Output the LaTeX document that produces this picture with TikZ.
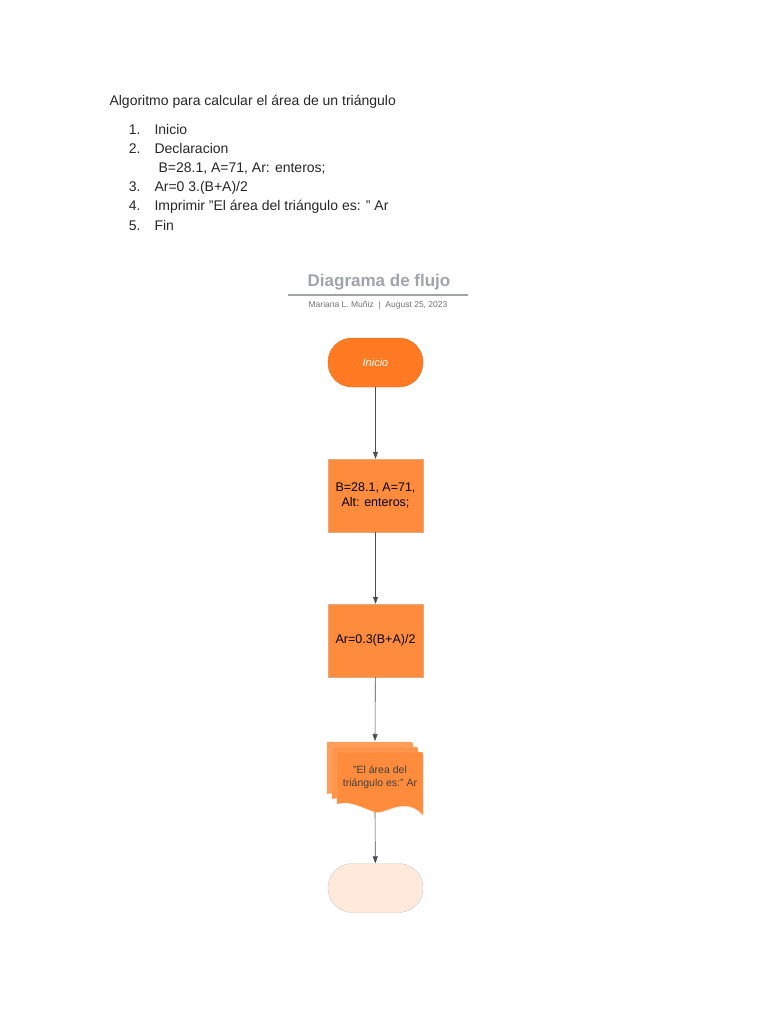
\documentclass[tikz,border=0pt]{standalone}
\usepackage{fontspec}
\setmainfont{Liberation Sans}
\usetikzlibrary{arrows.meta}
\definecolor{oA}{HTML}{FF7A22}
\definecolor{oB}{HTML}{FF8C3C}
\definecolor{pale}{HTML}{FFE9DB}
\definecolor{gt}{HTML}{A0A3A8}
\newcommand{\qq}{\symbol{34}}
\begin{document}
\begin{tikzpicture}[x=1pt,y=-1pt,
  proc/.style={draw=oB!80!black!60, fill=oB, minimum width=95pt, minimum height=73pt, align=center, font=\fontsize{12.5}{14.5}\selectfont, inner sep=0pt},
  term/.style={minimum width=95pt, minimum height=49pt, rounded corners=24pt, inner sep=0pt},
  arr/.style={draw=black!70, line width=0.6pt, -{Triangle[length=7pt,width=5pt]}},
  txt/.style={anchor=base west, font=\fontsize{14}{16}\selectfont, text=black!85}]
\useasboundingbox (0,0) rectangle (768,1024);
\node[txt] (h) at (106,106) {Algoritmo para calcular el área de un triángulo};
\foreach \n/\y/\t in {1/135/Inicio,2/154/Declaracion,3/192/{Ar=0 3.(B+A)/2},4/211/{Imprimir \qq El área del triángulo es: \qq\ Ar},5/231/Fin}{
  \node[txt, anchor=base east] (n\n) at (144,\y) {\n.};
  \node[txt] (t\n) at (151,\y) {\t};
}
\node[txt] (decl) at (155,173) {B=28.1, A=71, Ar: enteros;};
\node[font=\bfseries\fontsize{17}{19}\selectfont, text=gt] (title) at (379,282) {Diagrama de flujo};
\coordinate (l1) at (288,295); \coordinate (l2) at (468,295);
\draw[gt, line width=1.2pt] (l1) -- (l2);
\node[font=\fontsize{8.5}{10}\selectfont, text=black!55] (sub) at (378,305) {Mariana L. Muñiz \ | \ August 25, 2023};
\node[term, fill=oA, draw=oA!90!black, font=\itshape\fontsize{11}{13}\selectfont, text=white] (ini) at (375.5,362.5) {Inicio};
\node[proc] (b1) at (375.5,495.5) {B=28.1, A=71,\\Alt: enteros;};
\node[proc] (b2) at (375.5,640.5) {Ar=0.3(B+A)/2};
\coordinate (doctop) at (375,741);
\coordinate (docbot) at (375,812);
\draw[arr] (b2) -- (doctop);
% multi document
\foreach \d/\c in {10/oB!85!white,5/oB!92!white,0/oB}{
  \fill[\c, draw=oB!70!white, line width=0.4pt] (337-\d,752-\d) [rounded corners=2pt] -- (423-\d,752-\d) [sharp corners] -- (423-\d,815-\d)
    .. controls (405-\d,795-\d) and (385-\d,815-\d) .. (375-\d,812-\d) .. controls (360-\d,807-\d) and (350-\d,800-\d) .. (337-\d,804-\d) -- cycle;
}
\node[font=\fontsize{10.5}{12.5}\selectfont, align=center, text=black!75] (doc) at (380,777) {\qq El área del\\triángulo es:\qq\ Ar};
\node[term, fill=pale, draw=black!20] (fin) at (375.5,888) {};
\draw[arr] (ini) -- (b1);
\draw[arr] (b1) -- (b2);
\draw[arr] (docbot) -- (fin);
\end{tikzpicture}
\end{document}
